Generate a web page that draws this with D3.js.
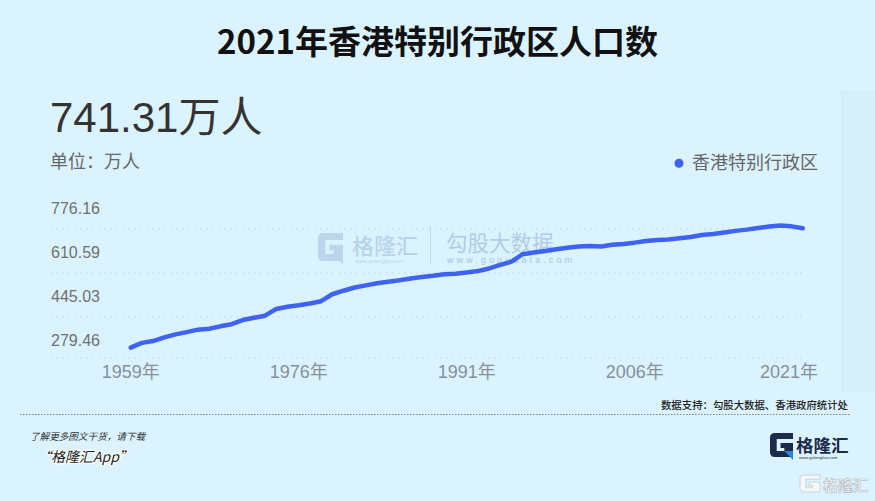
<!DOCTYPE html>
<html><head><meta charset="utf-8">
<script src="https://cdn.jsdelivr.net/npm/d3@7"></script>
<style>
html,body{margin:0;padding:0;background:#dbf3fe;}
svg{display:block;}
</style></head><body>
<svg id="c" width="875" height="501"></svg>
<script>
// ---- data ----
const years = ["1959","1960","1961","1962","1963","1964","1965","1966","1967","1968",
  "1970","1971","1972","1974","1975","1976","1977","1978","1979","1980",
  "1981","1982","1983","1984","1985","1986","1987","1988","1989","1990",
  "1991","1992","1993","1994","1995","1996","1997","1998","1999","2000",
  "2001","2002","2003","2004","2005","2006","2007","2008","2009","2010",
  "2011","2012","2013","2014","2015","2016","2017","2018","2019","2020","2021"];
const population = [292.0,310.0,316.8,330.5,342.1,350.5,359.8,363.0,372.3,380.3,
  395.9,404.5,412.4,437.8,446.2,451.8,458.4,466.8,493.0,506.3,
  518.3,526.5,534.5,539.8,545.6,552.5,558.1,562.8,568.6,570.5,
  575.2,580.1,590.1,603.5,615.6,643.6,649.9,655.6,662.0,668.0,
  672.5,675.0,672.5,679.0,682.3,687.2,693.2,697.0,699.1,703.6,
  708.4,716.1,719.5,725.2,731.5,736.2,742.2,747.6,751.7,748.5,741.31];
const yTicks = [279.46, 445.03, 610.59, 776.16];
const xTickYears = ["1959","1976","1991","2006","2021"];
const titleText = "2021年香港特别行政区人口数";
const latestText = "741.31万人";
const unitText = "单位：万人";
const seriesName = "香港特别行政区";
const sourceText = "数据支持：勾股大数据、香港政府统计处";

// ---- drawing ----
const W = 875, H = 501;
const svg = d3.select("#c");
const CJK = "'Noto Sans CJK SC','Noto Sans',sans-serif";
const LAT = "'Liberation Sans','Noto Sans CJK SC',sans-serif";

svg.append("rect").attr("width", W).attr("height", H).attr("fill", "#dbf3fe");
svg.append("rect").attr("x", 842).attr("y", 90).attr("width", 33).attr("height", 302).attr("fill", "#d7effb");
svg.append("line").attr("x1", 842).attr("x2", 842).attr("y1", 90).attr("y2", 392)
  .attr("stroke", "#d0e9f5").attr("stroke-width", 1.2);

// title
svg.append("text").attr("x", W / 2).attr("y", 54).attr("text-anchor", "middle")
  .attr("font-family", CJK).attr("font-weight", 700).attr("font-size", 33)
  .attr("fill", "#111").text(titleText);

// headline value
svg.append("text").attr("x", 50).attr("y", 132)
  .attr("font-family", LAT).attr("font-size", 42).attr("fill", "#333").text(latestText);
svg.append("text").attr("x", 50).attr("y", 168)
  .attr("font-family", CJK).attr("font-size", 18).attr("fill", "#666").text(unitText);

// scales
const x = d3.scalePoint().domain(years).range([130.7, 802.7]);
const y = d3.scaleLinear().domain([279.46, 776.16]).range([351, 219]);
const gridLeft = 50, gridRight = 805, plotBottom = 358, gridOffset = 10;

// watermark (under the line)
function gIcon(g, x0, y0, w, h, color, accent) {
  g.append("path").attr("transform", `translate(${x0},${y0}) scale(${w / 24},${h / 24})`)
    .attr("d", "M5,0 H24 V6 H7 V18 H15 V15 H11 V10 H24 V24 H5 Q0,24 0,19 V5 Q0,0 5,0 Z")
    .attr("fill", color);
  if (accent) g.append("path").attr("transform", `translate(${x0},${y0}) scale(${w / 24},${h / 24})`)
    .attr("d", "M15,18 L24,18 L24,27 Z").attr("fill", accent);
}
const wm = svg.append("g").attr("opacity", 0.85);
gIcon(wm, 318, 233, 25, 28, "#b6d1e8", "#b6d1e8");
wm.append("text").attr("x", 352).attr("y", 254).attr("font-family", CJK).attr("font-weight", 500)
  .attr("font-size", 22).attr("fill", "#b3cfe7").text("格隆汇");
wm.append("text").attr("x", 355).attr("y", 263).attr("font-family", LAT).attr("font-size", 5.6)
  .attr("fill", "#b3cfe7").text("www.gelonghui.com");
wm.append("line").attr("x1", 430.5).attr("x2", 430.5).attr("y1", 226).attr("y2", 265)
  .attr("stroke", "#bcd5ea").attr("stroke-width", 1);
wm.append("text").attr("x", 446).attr("y", 251).attr("font-family", CJK)
  .attr("font-size", 21.5).attr("fill", "#aac7e1").text("勾股大数据");
wm.append("text").attr("x", 447).attr("y", 262.5).attr("font-family", LAT)
  .attr("font-size", 9).attr("letter-spacing", 3.1).attr("fill", "#9dbcd9").text("www.gogudata.com");

// grid lines
svg.append("g").selectAll("line").data(yTicks).join("line")
  .attr("x1", gridLeft).attr("x2", gridRight)
  .attr("y1", d => Math.min(y(d) + gridOffset, plotBottom))
  .attr("y2", d => Math.min(y(d) + gridOffset, plotBottom))
  .attr("stroke", "#c3dcea").attr("stroke-width", 1).attr("stroke-dasharray", "2,4");

// y labels
svg.append("g").selectAll("text").data(yTicks).join("text")
  .attr("x", 51).attr("y", d => y(d) - 11 + 5.7)
  .attr("font-family", LAT).attr("font-size", 16).attr("fill", "#707070")
  .text(d => d.toFixed(2));

// x labels
const xl = svg.append("g").selectAll("text").data(xTickYears).join("text")
  .attr("x", d => x(d)).attr("y", 378).attr("text-anchor", "middle")
  .attr("font-family", LAT).attr("font-size", 18).attr("fill", "#86909c")
  .text(d => d + "年");
xl.each(function (d) {
  const w = this.getComputedTextLength();
  const limit = 818;
  if (x(d) + w / 2 > limit) d3.select(this).attr("x", limit - w / 2);
});

// line
const line = d3.line().x((d, i) => x(years[i])).y(d => y(d));
svg.append("path").datum(population).attr("d", line)
  .attr("fill", "none").attr("stroke", "#3e62f2").attr("stroke-width", 4.5)
  .attr("stroke-linejoin", "round").attr("stroke-linecap", "round");

// legend
svg.append("circle").attr("cx", 679).attr("cy", 163.3).attr("r", 4.5).attr("fill", "#3e62f2");
svg.append("text").attr("x", 692).attr("y", 168.5).attr("font-family", CJK)
  .attr("font-size", 18).attr("fill", "#666").text(seriesName);

// footer
svg.append("text").attr("x", 848).attr("y", 409).attr("text-anchor", "end")
  .attr("font-family", CJK).attr("font-weight", 500).attr("font-size", 10.4)
  .attr("fill", "#222").text(sourceText);
svg.append("line").attr("x1", 20).attr("x2", 850).attr("y1", 414.5).attr("y2", 414.5)
  .attr("stroke", "#666").attr("stroke-width", 0.8).attr("stroke-dasharray", "1.5,1.5");
svg.append("text").attr("x", 30).attr("y", 440).attr("font-family", CJK)
  .attr("font-style", "italic").attr("font-size", 9.6).attr("fill", "#333")
  .text("了解更多图文干货，请下载");
svg.append("text").attr("x", 37).attr("y", 461.5).attr("font-family", CJK)
  .attr("font-style", "italic").attr("font-size", 14).attr("fill", "#222")
  .attr("stroke", "#fff").attr("stroke-width", 2.5).attr("paint-order", "stroke")
  .text("“格隆汇App”");

// bottom-right logo
const lg = svg.append("g");
gIcon(lg, 770, 433, 23, 24, "#1c2a4c", "#2f86d6");
lg.append("text").attr("x", 796).attr("y", 452).attr("font-family", CJK).attr("font-weight", 700)
  .attr("font-size", 17.5).attr("fill", "#1c2a4c").text("格隆汇");
lg.append("text").attr("x", 799).attr("y", 459).attr("font-family", LAT).attr("font-size", 4.3)
  .attr("fill", "#1c2a4c").text("www.gelonghui.com");

// bottom watermark
const bw = svg.append("g");
gIcon(bw, 800, 475, 20, 17, "#f4f6f8", null);
bw.select("path").attr("stroke", "#b9c2c9").attr("stroke-width", 0.8);
bw.append("text").attr("x", 823).attr("y", 491).attr("font-family", CJK).attr("font-weight", 700)
  .attr("font-size", 15).attr("fill", "#f4f6f8").attr("stroke", "#aeb7bf").attr("stroke-width", 0.6)
  .text("格隆汇");
</script>
</body></html>
